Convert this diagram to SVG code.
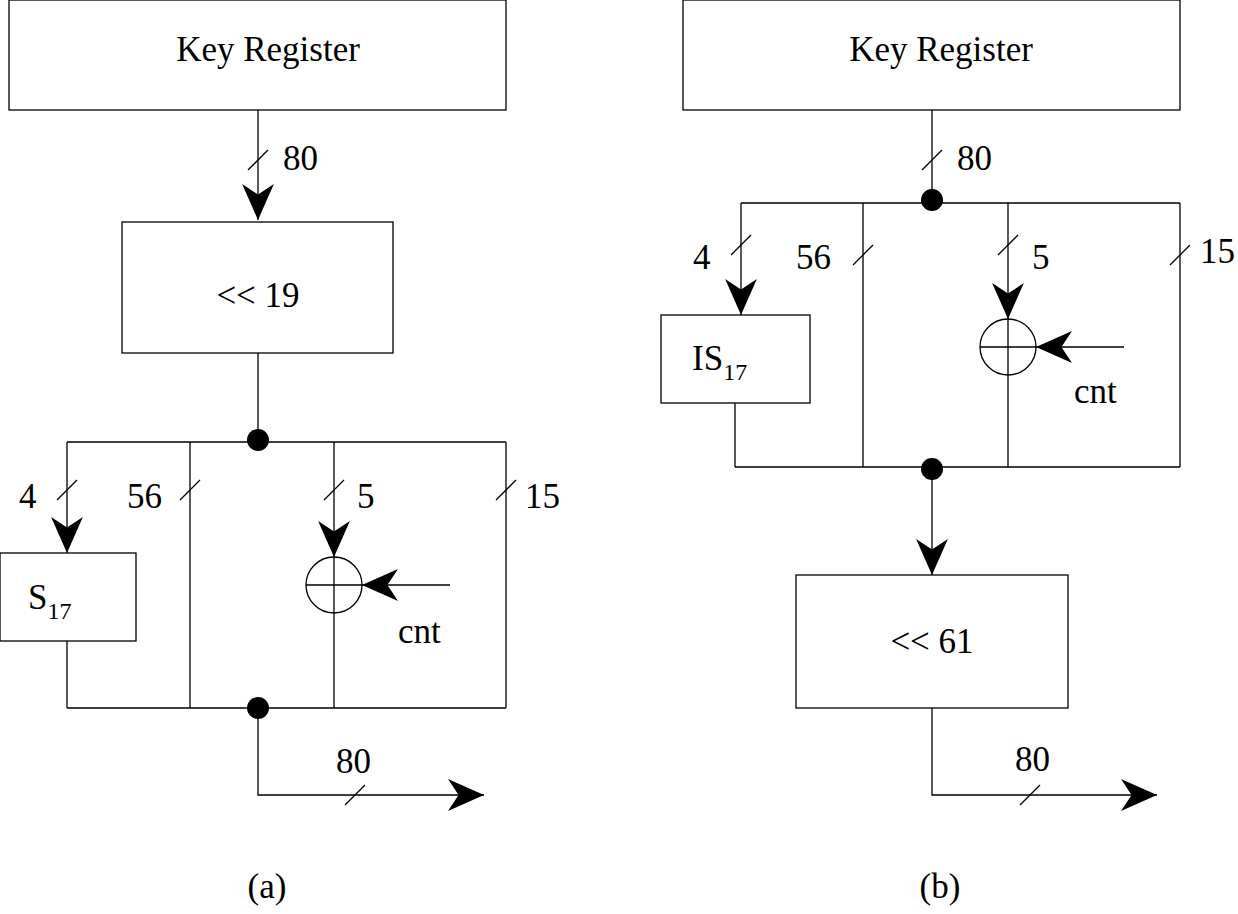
<svg xmlns="http://www.w3.org/2000/svg" width="1238" height="914" viewBox="0 0 1238 914">
<style>
.b{fill:#fff;stroke:#000;stroke-width:1.3}
.l{fill:none;stroke:#000;stroke-width:1.3}
text{font-family:"Liberation Serif","Times New Roman",Tinos,"DejaVu Serif",serif;font-size:35px;fill:#000}
.c{text-anchor:middle}
</style>
<defs>
<marker id="ar" markerUnits="userSpaceOnUse" markerWidth="40" markerHeight="36" viewBox="-34 -17 36 34" refX="0" refY="0" orient="auto">
<path d="M0,0 L-34,-15 L-24,0 L-34,15 z" fill="#000"/>
</marker>
</defs>
<g id="connectors">
<path class="l" d="M258,110 V220" marker-end="url(#ar)"/>
<path class="l" d="M248,170 L268,150"/>
<path class="l" d="M258,353 V442"/>
<path class="l" d="M67,442 H506 M190,442 V708 M506,442 V708 M67,708 H506 M67,641 V708 M334,613 V708"/>
<path class="l" d="M67,442 V553" marker-end="url(#ar)"/>
<path class="l" d="M334,442 V557" marker-end="url(#ar)"/>
<path class="l" d="M450,585 H362" marker-end="url(#ar)"/>
<path class="l" d="M258,708 V795 H484" marker-end="url(#ar)"/>
<path class="l" d="M57,500 L77,480 M180,500 L200,480 M324,500 L344,480 M496,500 L516,480 M345,805 L365,785"/>
<path class="l" d="M932,110 V203"/>
<path class="l" d="M922,170 L942,150"/>
<path class="l" d="M741,203 H1180 M863,203 V467 M1180,203 V467 M735,467 H1180 M735,403 V467 M1008,375 V467"/>
<path class="l" d="M741,203 V315" marker-end="url(#ar)"/>
<path class="l" d="M1008,203 V319" marker-end="url(#ar)"/>
<path class="l" d="M1124,347 H1036" marker-end="url(#ar)"/>
<path class="l" d="M932,467 V575" marker-end="url(#ar)"/>
<path class="l" d="M932,708 V795 H1157" marker-end="url(#ar)"/>
<path class="l" d="M731,255 L751,235 M853,265 L873,245 M998,255 L1018,235 M1170,265 L1190,245 M1020,805 L1040,785"/>
<circle cx="258" cy="440" r="11"/>
<circle cx="258" cy="708" r="11"/>
<circle cx="932" cy="200" r="11"/>
<circle cx="932" cy="469" r="11"/>
</g>
<g id="a-key"><rect class="b" x="9" y="0" width="497" height="110"/><text class="c" x="268" y="61">Key Register</text></g>
<g id="a-shift"><rect class="b" x="122" y="222" width="271" height="131"/><text class="c" x="258" y="307">&lt;&lt; 19</text></g>
<g id="a-s17"><rect class="b" x="0" y="553" width="136" height="88"/><text x="28" y="609">S<tspan font-size="24" dy="10">17</tspan></text></g>
<g id="a-xor"><circle class="b" cx="334" cy="585" r="28"/><path class="l" d="M306,585 H362 M334,557 V613"/></g>
<g id="a-labels">
<text x="283" y="170">80</text><text x="19" y="508">4</text><text x="127" y="508">56</text><text x="357" y="508">5</text><text x="525" y="508">15</text>
<text x="398" y="643">cnt</text><text x="336" y="773">80</text><text class="c" x="267" y="898">(a)</text>
</g>
<g id="b-key"><rect class="b" x="683" y="0" width="497" height="110"/><text class="c" x="941" y="61">Key Register</text></g>
<g id="b-is17"><rect class="b" x="661" y="315" width="149" height="88"/><text x="692" y="370">IS<tspan font-size="24" dy="10">17</tspan></text></g>
<g id="b-xor"><circle class="b" cx="1008" cy="347" r="28"/><path class="l" d="M980,347 H1036 M1008,319 V375"/></g>
<g id="b-shift"><rect class="b" x="796" y="575" width="272" height="133"/><text class="c" x="932" y="653">&lt;&lt; 61</text></g>
<g id="b-labels">
<text x="957" y="170">80</text><text x="693" y="269">4</text><text x="796" y="269">56</text><text x="1032" y="269">5</text><text x="1200" y="263">15</text>
<text x="1074" y="403">cnt</text><text x="1015" y="771">80</text><text class="c" x="940" y="898">(b)</text>
</g>
</svg>
